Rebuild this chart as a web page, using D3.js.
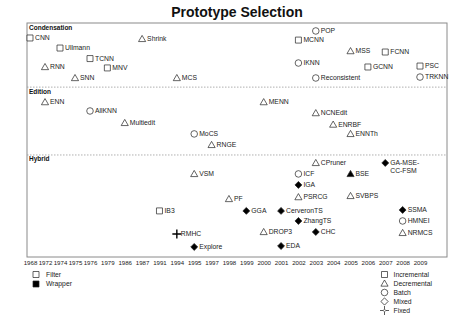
<!DOCTYPE html>
<html><head><meta charset="utf-8">
<script src="https://cdn.jsdelivr.net/npm/d3@7/dist/d3.min.js"></script>
<style>body{margin:0;background:#fff}svg{display:block;font-family:'Liberation Sans',Arial,sans-serif}</style>
</head><body><svg id="c" width="474" height="325"></svg>
<script>
// ---- data ----
const years = ["1968","1972","1974","1975","1976","1979","1986","1987","1991","1994","1995","1997","1998","1999","2000","2001","2002","2003","2004","2005","2006","2007","2008","2009"];
const sections = ["Condensation","Edition","Hybrid"];
const sectionTops = [100, 72.6, 43.6];
const methods = ["CNN","Shrink","Ullmann","TCNN","RNN","MNV","SNN","MCS","POP","MCNN","MSS","FCNN","IKNN","GCNN","PSC","Reconsistent","TRKNN",
  "ENN","AllKNN","Multiedit","MoCS","RNGE","MENN","NCNEdit","ENRBF","ENNTh",
  "VSM","PF","IB3","RMHC","Explore","CPruner","GA-MSE-CC-FSM","ICF","BSE","IGA","PSRCG","SVBPS","GGA","CerveronTS","SSMA","ZhangTS","HMNEI","DROP3","CHC","NRMCS","EDA"];
const methodYears = ["1968","1987","1974","1976","1972","1979","1975","1994","2003","2002","2005","2007","2002","2006","2009","2003","2009",
  "1972","1976","1986","1995","1997","2000","2003","2004","2005",
  "1995","1998","1991","1994","1995","2003","2007","2002","2005","2002","2002","2005","1999","2001","2008","2002","2008","2000","2003","2008","2001"];
const methodRows = [93.6,93.2,89.3,84.8,81.2,80.8,76.5,76.5,96.6,92.7,88.0,87.6,82.9,81.2,81.6,76.5,76.9,
  66.2,62.4,57.3,52.6,47.9,66.2,61.5,56.6,52.6,
  35.5,24.8,19.7,9.8,4.3,40.2,40.2,35.5,35.5,30.8,25.6,26.1,19.7,19.7,20.1,15.4,15.4,10.7,10.7,10.3,4.7];
// I=incremental, D=decremental, B=batch, M=mixed, F=fixed
const methodShapes = ["I","D","I","I","D","I","D","D","B","I","D","I","B","I","I","B","B",
  "D","B","D","B","D","D","D","D","D",
  "D","D","I","F","M","D","M","B","D","M","D","D","M","M","M","M","B","D","M","D","M"];
// f=filter, w=wrapper
const methodKinds = ["f","f","f","f","f","f","f","f","f","f","f","f","f","f","f","f","f",
  "f","f","f","f","f","f","f","f","f",
  "f","f","f","w","w","f","w","f","w","w","f","f","w","w","w","w","f","f","w","f","w"];
const kindLegend = ["Filter","Wrapper"];
const shapeLegend = ["Incremental","Decremental","Batch","Mixed","Fixed"];

// ---- layout ----
const svg = d3.select("#c");
const L = 27, R = 447, T = 23, B = 257;
const x = d3.scaleLinear().domain([0, 4, years.length - 1]).range([30, 90, 420]);
const y = d3.scaleLinear().domain([0, 100]).range([B, T]);
const xi = yr => x(years.indexOf(yr));

svg.append("text").attr("x", 237).attr("y", 17).attr("text-anchor", "middle")
  .attr("font-size", 14).attr("font-weight", "bold").attr("fill", "#111").text("Prototype Selection");

svg.append("rect").attr("x", L).attr("y", T).attr("width", R - L).attr("height", B - T)
  .attr("fill", "none").attr("stroke", "#8a8a8a").attr("stroke-width", 1);

sections.forEach((s, i) => {
  if (i > 0) svg.append("line").attr("x1", L).attr("x2", R).attr("y1", y(sectionTops[i])).attr("y2", y(sectionTops[i]))
    .attr("stroke", "#9a9a9a").attr("stroke-width", 0.8).attr("stroke-dasharray", "1.5,1.5");
  svg.append("text").attr("x", L + 2).attr("y", y(sectionTops[i]) + 6.5).attr("font-size", 6.5)
    .attr("font-weight", "bold").attr("fill", "#111").text(s);
});

// axis
const ax = d3.axisBottom(x).tickValues(d3.range(years.length)).tickFormat(i => years[i]).tickSize(0).tickPadding(0);
const axg = svg.append("g").attr("transform", `translate(0,${B + 4})`).call(ax);
axg.select(".domain").remove();
axg.selectAll("text").attr("font-size", 6.1).attr("fill", "#222").attr("font-family", "'Liberation Sans',Arial,sans-serif");

function drawShape(g, shape, filled) {
  const fill = filled ? "#000" : "#fff";
  let p;
  if (shape === "I") p = g.append("path").attr("d", d3.symbol(d3.symbolSquare, 36)());
  else if (shape === "D") p = g.append("path").attr("d", d3.symbol(d3.symbolTriangle, 22)()).attr("transform", "translate(0,0.6)");
  else if (shape === "B") p = g.append("path").attr("d", d3.symbol(d3.symbolCircle, 34)());
  else if (shape === "M") p = g.append("path").attr("d", d3.symbol(d3.symbolSquare, 24)()).attr("transform", "rotate(45)");
  else {
    g.append("path").attr("d", "M-4.5,0H4.5M0,-4.5V4.5").attr("stroke", "#000").attr("stroke-width", 1.4);
    return;
  }
  p.attr("fill", fill).attr("stroke", "#222").attr("stroke-width", 0.7);
}

methods.forEach((m, i) => {
  const cx = xi(methodYears[i]), cy = y(methodRows[i]);
  const g = svg.append("g").attr("transform", `translate(${cx},${cy})`);
  drawShape(g, methodShapes[i], methodKinds[i] === "w");
  const t = g.append("text").attr("x", methodShapes[i] === "F" ? 4 : 5).attr("font-size", 6.8).attr("fill", "#222");
  if (m === "GA-MSE-CC-FSM") {
    t.append("tspan").attr("x", 5).attr("dy", "0.35em").text("GA-MSE-");
    t.append("tspan").attr("x", 5).attr("dy", "1.15em").text("CC-FSM");
  } else t.attr("dy", "0.35em").text(m);
});

// legends
kindLegend.forEach((k, i) => {
  const g = svg.append("g").attr("transform", `translate(36,${274.5 + i * 9.5})`);
  drawShape(g, "I", i === 1);
  g.append("text").attr("x", 10).attr("dy", "0.35em").attr("font-size", 6.8).attr("fill", "#222").text(k);
});
shapeLegend.forEach((k, i) => {
  const g = svg.append("g").attr("transform", `translate(384.5,${274.5 + i * 9})`);
  const code = ["I","D","B","M","F"][i];
  if (code === "M") {
    g.append("path").attr("d", d3.symbol(d3.symbolSquare, 26)()).attr("transform", "rotate(45)")
      .attr("fill", "#fff").attr("stroke", "#222").attr("stroke-width", 0.7);
  } else if (code === "F") {
    g.append("path").attr("d", "M-4.5,0H4.5M0,-4.5V4.5").attr("stroke", "#333").attr("stroke-width", 0.8);
    g.append("path").attr("d", d3.symbol(d3.symbolSquare, 4)()).attr("transform", "rotate(45)")
      .attr("fill", "#fff").attr("stroke", "#333").attr("stroke-width", 0.6);
  } else drawShape(g, code, false);
  g.append("text").attr("x", 9).attr("dy", "0.35em").attr("font-size", 6.8).attr("fill", "#222").text(k);
});
</script></body></html>
